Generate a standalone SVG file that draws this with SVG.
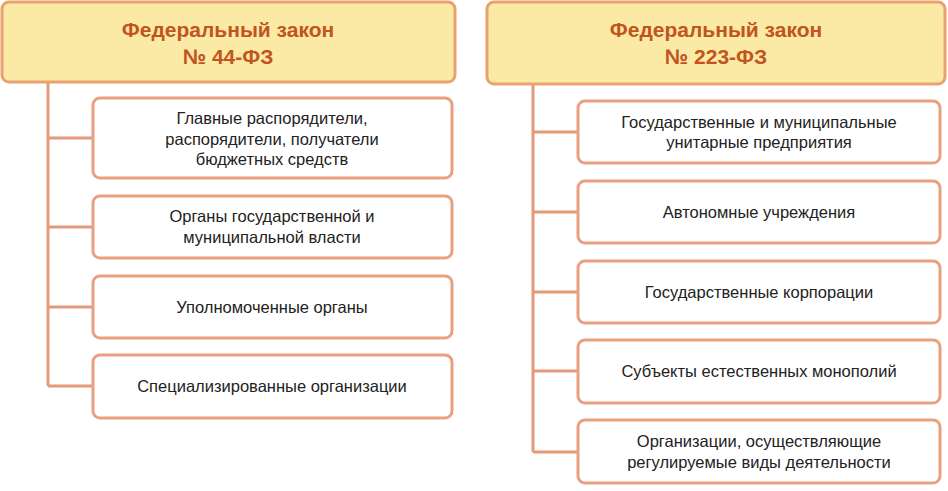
<svg xmlns="http://www.w3.org/2000/svg" width="948" height="491" viewBox="0 0 948 491">
<style>
.h{fill:#fbe9a6;stroke:#e9a170;stroke-width:3}
.b{fill:#fff;stroke:#e9a080;stroke-width:3}
.ht{font-family:"Liberation Sans",Arial,sans-serif;font-weight:bold;font-size:21px;fill:#c2541e;text-anchor:middle}
.t{font-family:"Liberation Sans",Arial,sans-serif;font-size:16.5px;fill:#222;text-anchor:middle}
.c{stroke:#e39a7a;stroke-width:3;fill:none}
</style>
<rect width="948" height="491" fill="#fff"/>
<g id="connectors">
<path class="c" d="M48 82V386M48 138H93M48 227H93M48 307H93M48 386H93"/>
<path class="c" d="M533 84V452M533 132H578M533 212H578M533 292H578M533 371H578M533 452H578"/>
</g>
<g id="h1"><rect class="h" x="2" y="2" width="453" height="80" rx="7"/><text class="ht" x="228" y="37">Федеральный закон</text><text class="ht" x="228" y="64">№ 44-ФЗ</text></g>
<g id="h2"><rect class="h" x="487" y="2" width="458" height="82" rx="7"/><text class="ht" x="716" y="37">Федеральный закон</text><text class="ht" x="716" y="64">№ 223-ФЗ</text></g>
<g id="l1"><rect class="b" x="93" y="98" width="359" height="80" rx="7"/><text class="t" x="272" y="124">Главные распорядители,</text><text class="t" x="272" y="145">распорядители, получатели</text><text class="t" x="272" y="165">бюджетных средств</text></g>
<g id="l2"><rect class="b" x="93" y="196" width="359" height="62" rx="7"/><text class="t" x="272" y="222">Органы государственной и</text><text class="t" x="272" y="243">муниципальной  власти</text></g>
<g id="l3"><rect class="b" x="93" y="276" width="359" height="62" rx="7"/><text class="t" x="272" y="313">Уполномоченные органы</text></g>
<g id="l4"><rect class="b" x="93" y="355" width="359" height="63" rx="7"/><text class="t" x="272" y="392">Специализированные организации</text></g>
<g id="r1"><rect class="b" x="578" y="101" width="362" height="62" rx="7"/><text class="t" x="759" y="128">Государственные и муниципальные</text><text class="t" x="759" y="148">унитарные предприятия</text></g>
<g id="r2"><rect class="b" x="578" y="181" width="362" height="62" rx="7"/><text class="t" x="759" y="218">Автономные учреждения</text></g>
<g id="r3"><rect class="b" x="578" y="261" width="362" height="62" rx="7"/><text class="t" x="759" y="298">Государственные корпорации</text></g>
<g id="r4"><rect class="b" x="578" y="340" width="362" height="63" rx="7"/><text class="t" x="759" y="377">Субъекты естественных монополий</text></g>
<g id="r5"><rect class="b" x="578" y="420" width="362" height="63" rx="7"/><text class="t" x="759" y="447">Организации, осуществляющие</text><text class="t" x="759" y="468">регулируемые виды деятельности</text></g>
</svg>
